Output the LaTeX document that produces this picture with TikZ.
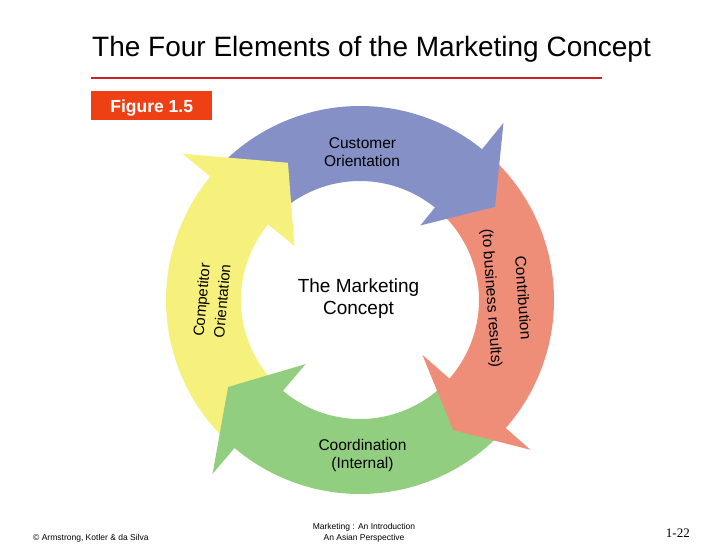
\documentclass[tikz,border=0pt]{standalone}
\usepackage{fontspec}
\setmainfont{Liberation Sans}
\newfontfamily\seriffnt{Liberation Serif}
\definecolor{cblue}{RGB}{133,144,198}
\definecolor{corange}{RGB}{239,142,120}
\definecolor{cgreen}{RGB}{146,206,128}
\definecolor{cyellow}{RGB}{246,240,124}
\definecolor{figred}{RGB}{238,64,20}
\definecolor{linered}{RGB}{204,34,34}
\newcommand\ringbody[3]{\fill[#1] (#2:119) -- (#2:194) arc[start angle=#2, end angle=#3, radius=194] -- (#3:119) arc[start angle=#3, end angle=#2, radius=119] -- cycle;}
\begin{document}
\begin{tikzpicture}[x=1pt,y=-1pt,
  lbl/.style={font=\fontsize{15.5}{18}\selectfont, inner sep=0pt},
  foot/.style={font=\fontsize{8.5}{10}\selectfont, inner sep=0pt}]
\useasboundingbox (0,0) rectangle (728,546);
\fill[white] (0,0) rectangle (728,546);
% title
\node[anchor=base west, inner sep=0pt, font=\fontsize{28}{32}\selectfont] (title) at (92,56) {The Four Elements of the Marketing Concept};
\coordinate (ls) at (91,78);
\coordinate (le) at (602,78);
\draw[linered, line width=2pt] (ls) -- (le);
\node[fill=figred, minimum width=121pt, minimum height=29.5pt, inner sep=0pt] (figbox) at (151.2,105.3) {};
\node[anchor=base, text=white, font=\bfseries\fontsize{17.5}{20}\selectfont, inner sep=0pt] (figtext) at (151.7,112.7) {Figure 1.5};
% ring
\begin{scope}[shift={(360,300)}, y=1pt]
  % bodies: start under the previous head, end under their own head
  \ringbody{cyellow}{228.7}{137.5}
  \ringbody{cblue}{139.5}{48}
  \ringbody{corange}{50}{-44.3}
  \ringbody{cgreen}{-42.3}{-133.3}
  % heads
  \fill[cyellow] (140.5:85) -- (117.7:155) -- (140.5:230) -- cycle;
  \fill[cblue] (51:96) -- (34.6:164) -- (51:228) -- cycle;
  \fill[corange] (-41.3:83) -- (-54.4:160) -- (-41.3:227) -- cycle;
  \fill[cgreen] (-130.3:84) -- (-146.6:158) -- (-130.3:228) -- cycle;
\end{scope}
% labels
\node[lbl, anchor=base] (cust1) at (362.5,148) {Customer};
\node[lbl, anchor=base] (cust2) at (362,166.7) {Orientation};
\node[anchor=base, inner sep=0pt, font=\fontsize{19}{22}\selectfont] (mk1) at (358.5,292) {The Marketing};
\node[anchor=base, inner sep=0pt, font=\fontsize{19}{22}\selectfont] (mk2) at (358.5,314) {Concept};
\node[anchor=base, inner sep=0pt, font=\fontsize{15.5}{18}\selectfont] (coord1) at (362.5,450) {Coordination};
\node[lbl, anchor=base] (coord2) at (362.5,468.3) {(Internal)};
\node[lbl, font=\fontsize{15}{18}\selectfont, rotate=85] (comp1) at (203,300) {Competitor};
\node[lbl, font=\fontsize{15}{18}\selectfont, rotate=85] (comp2) at (222,301) {Orientation};
\node[lbl, rotate=-86] (contr1) at (523.5,298) {Contribution};
\node[lbl, rotate=-86] (contr2) at (491,298.5) {(to business results)};
% footer
\node[foot, anchor=base west] (copy) at (33,540) {© Armstrong, Kotler \& da Silva};
\node[foot, anchor=base] (book1) at (364,529) {Marketing : An Introduction};
\node[foot, anchor=base] (book2) at (364,540.5) {An Asian Perspective};
\node[anchor=base east, inner sep=0pt, font=\seriffnt\fontsize{13}{15}\selectfont] (page) at (690,537) {1-22};
\end{tikzpicture}
\end{document}
